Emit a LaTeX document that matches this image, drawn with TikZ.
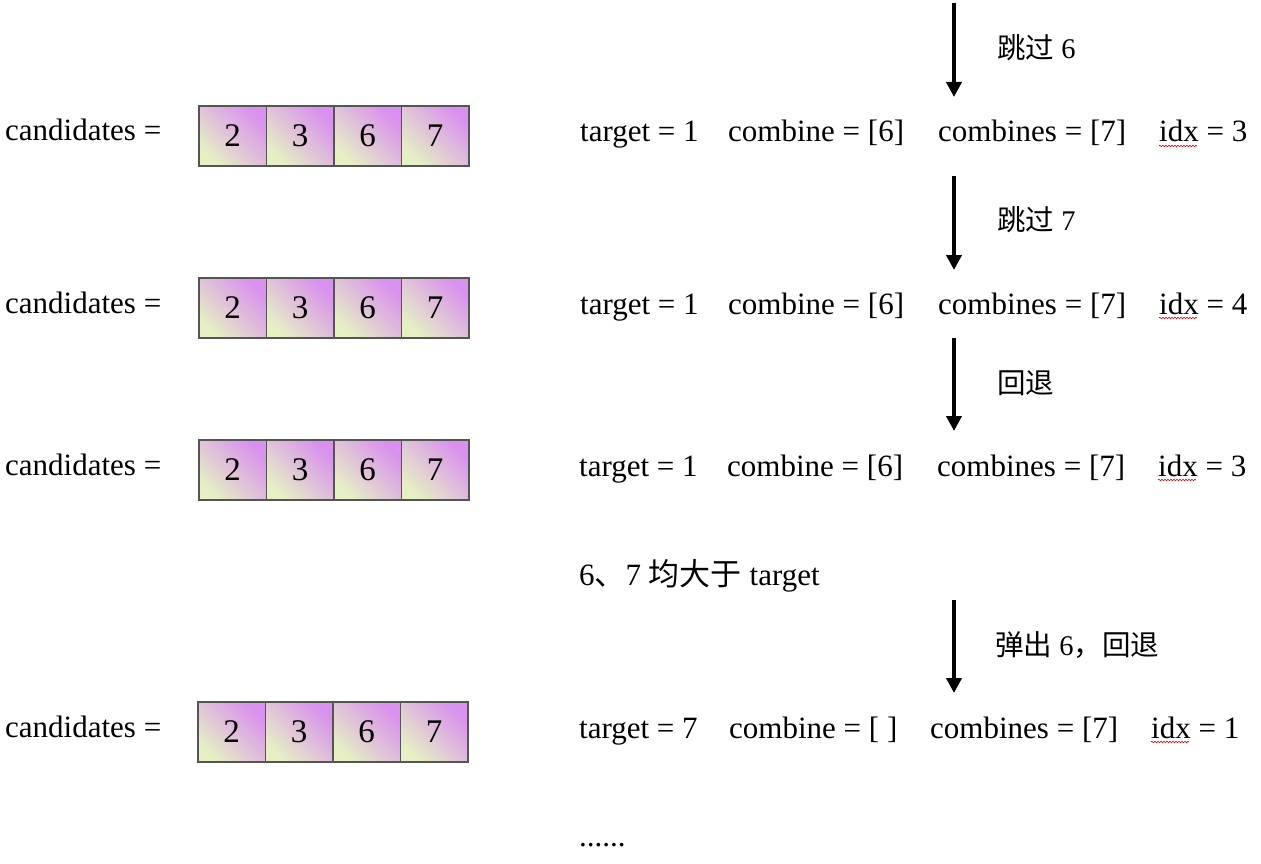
\documentclass[tikz,border=0pt]{standalone}
\usepackage{fontspec}
\setmainfont{Liberation Serif}
\newfontfamily\cjk{Noto Sans CJK SC}
\usetikzlibrary{positioning, arrows.meta, decorations.pathmorphing}
\definecolor{celltop}{HTML}{D990EE}
\definecolor{cellmid}{HTML}{E0D4E0}
\definecolor{cellbot}{HTML}{E6F0C4}
\definecolor{celledge}{HTML}{555555}
\tikzset{
  % --- candidate array cells ---
  cell/.style={draw=celledge, line width=1.6pt, minimum width=67.5pt,
    minimum height=60pt, inner sep=0pt, anchor=north west,
    top color=celltop, middle color=cellmid, bottom color=cellbot,
    shading angle=-45, font=\fontsize{33}{38}\selectfont},
  % --- texts ---
  txt/.style={anchor=base west, inner sep=0pt, font=\fontsize{31}{36}\selectfont},
  steplabel/.style={anchor=west, inner sep=0pt, font=\fontsize{28.5}{34}\selectfont},
  % --- step arrows ---
  steparrow/.style={-{Triangle[length=15pt, width=15pt]}, line width=4.5pt},
  squiggle/.style={red!85!black, line width=0.6pt,
    decorate, decoration={snake, amplitude=0.8pt, segment length=3pt}},
}
\begin{document}
\begin{tikzpicture}[x=1pt, y=-1pt]
  \useasboundingbox[fill=white] (0,0) rectangle (1261,864);
  % ---- candidate arrays ----
  \foreach \r/\x/\y/\b in {1/198/105/141, 2/198/277/313, 3/198/439/475, 4/197/701/737}{
    \node[txt] (cand\r) at (5,\b) {candidates =};
    \foreach \d [count=\i] in {2,3,6,7}{
      \node[cell] (c\r\i) at ({\x+(\i-1)*67.5},\y) {\d};
    }
  }
  % ---- state lines ----
  \node[txt] (tg1) at (580,142) {target = 1};
  \node[txt] (cb1) at (728,142) {combine = [6]};
  \node[txt] (cs1) at (938,142) {combines = [7]};
  \node[txt] (ix1) at (1159,142) {idx = 3};
  \node[txt] (tg2) at (580,314) {target = 1};
  \node[txt] (cb2) at (728,314) {combine = [6]};
  \node[txt] (cs2) at (938,314) {combines = [7]};
  \node[txt] (ix2) at (1159,314) {idx = 4};
  \node[txt] (tg3) at (579,476) {target = 1};
  \node[txt] (cb3) at (727,476) {combine = [6]};
  \node[txt] (cs3) at (937,476) {combines = [7]};
  \node[txt] (ix3) at (1158,476) {idx = 3};
  \node[txt] (note) at (579,585) {6{\cjk 、}7 {\cjk 均大于} target};
  \node[txt] (tg4) at (579,738) {target = 7};
  \node[txt] (cb4) at (729,738) {combine = [ ]};
  \node[txt] (cs4) at (930,738) {combines = [7]};
  \node[txt] (ix4) at (1151,738) {idx = 1};
  \node[txt] (more) at (579,846) {......};
  % ---- spell-check marks under idx ----
  \foreach \n in {ix1,ix2,ix3,ix4}{
    \draw[squiggle] ([yshift=-4pt]\n.base west) -- ++(38,0);
  }
  % ---- step arrows ----
  \coordinate (s1) at (954,3);   \coordinate (e1) at (954,97);
  \coordinate (s2) at (954,176); \coordinate (e2) at (954,270);
  \coordinate (s3) at (954,338); \coordinate (e3) at (954,431);
  \coordinate (s4) at (954,600); \coordinate (e4) at (954,693);
  \foreach \k in {1,...,4}{ \draw[steparrow] (s\k) -- (e\k); }
  % ---- step labels ----
  \node[steplabel] (l1) at (997,48) {{\cjk 跳过} 6};
  \node[steplabel] (l2) at (997,220) {{\cjk 跳过} 7};
  \node[steplabel] (l3) at (997,383) {\cjk 回退};
  \node[steplabel] (l4) at (995,645) {{\cjk 弹出} 6{\cjk ，回退}};
\end{tikzpicture}
\end{document}
